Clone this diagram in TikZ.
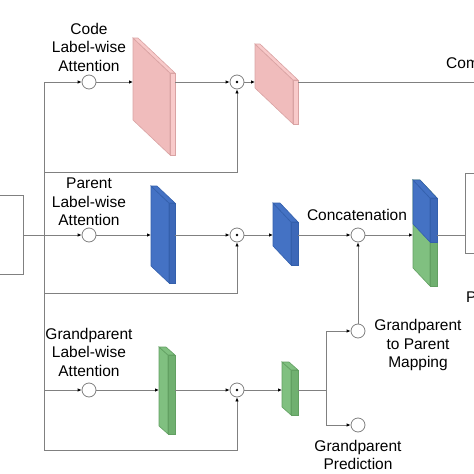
\documentclass[tikz,border=0pt]{standalone}
\usepackage{fontspec}
\setmainfont{Liberation Sans}
\usetikzlibrary{arrows.meta,calc}
\definecolor{wiregray}{HTML}{808080}
\definecolor{pinkface}{HTML}{F0BCBC}
\definecolor{pinkfront}{HTML}{F8CACA}
\definecolor{pinkedge}{HTML}{D9A3A3}
\definecolor{blueface}{HTML}{4472C4}
\definecolor{bluefront}{HTML}{3D68B8}
\definecolor{blueedge}{HTML}{3460AC}
\definecolor{greenface}{HTML}{80C080}
\definecolor{greenfront}{HTML}{70B070}
\definecolor{greenedge}{HTML}{62A062}
\tikzset{
  wire/.style={draw=wiregray,line width=1pt},
  arr/.style={wire,-{Latex[length=4pt,width=3.5pt,color=black]}},
  opcirc/.style={circle,draw=wiregray,fill=white,line width=0.8pt,minimum size=14pt,inner sep=0},
  multcirc/.style={opcirc,path picture={\fill[black] (path picture bounding box.center) circle (1.3pt);}},
  lbl/.style={font=\fontsize{15.5}{18.5}\selectfont,align=center,inner sep=0},
  iobox/.style={rectangle,draw=wiregray,line width=1pt,inner sep=0},
  slabbox/.style={rectangle,inner sep=0,anchor=north west},
  pinkside/.style={fill=pinkface,draw=pinkedge,line width=0.6pt},
  pinktop/.style={fill=pinkfront,draw=pinkedge,line width=0.6pt},
  pinkfront/.style={fill=pinkfront,draw=pinkedge,line width=0.6pt},
  blueside/.style={fill=blueface,draw=blueedge,line width=0.6pt},
  bluetop/.style={fill=blueface,draw=blueedge,line width=0.6pt},
  bluefront/.style={fill=bluefront,draw=blueedge,line width=0.6pt},
  greenside/.style={fill=greenface,draw=greenedge,line width=0.6pt},
  greentop/.style={fill=greenface,draw=greenedge,line width=0.6pt},
  greenfront/.style={fill=greenfront,draw=greenedge,line width=0.6pt}
}
% name, x, y (front face top-left), width, height, dx, dy, colour
\newcommand{\slab}[8]{%
  \draw[#8side] (#2,#3) -- ++(-#6,-#7) -- ++(0,#5) -- ++(#6,#7) -- cycle;
  \draw[#8top] (#2,#3) -- ++(#4,0) -- ++(-#6,-#7) -- ++(-#4,0) -- cycle;
  \draw[#8front] (#2,#3) rectangle ++(#4,#5);
  \path (#2,#3) ++(-#6,-#7) node[slabbox,minimum width=#4pt+#6pt,minimum height=#5pt+#7pt] (#1) {};
}
\begin{document}
\begin{tikzpicture}[x=1pt,y=-1pt]
    \useasboundingbox (0,0) rectangle (474,474);
    \clip (0,0) rectangle (474,474);

    % input and output boxes
    \node[iobox,anchor=north east,minimum width=40pt,minimum height=79pt] (inp) at (24,195) {};
    \node[iobox,anchor=north west,minimum width=40pt,minimum height=80pt] (out) at (465,173) {};

    % trunk
    \coordinate (ttop) at (44,82);
    \coordinate (tbot) at (44,450);
    \coordinate (cloop) at (44,172);
    \coordinate (ploop) at (44,293);
    \coordinate (grow) at (44,390);
    \draw[wire] (ttop) -- (tbot);
    \draw[wire] (inp) -- (inp -| ttop);

    % circles
    \node[opcirc] (ca) at (89,82) {};
    \node[opcirc] (pa) at (89,235) {};
    \node[opcirc] (ga) at (89,390) {};
    \node[multcirc] (cm) at (237,82) {};
    \node[multcirc] (pm) at (237,235) {};
    \node[multcirc] (gm) at (237,390) {};
    \node[opcirc] (cc) at (358,235) {};
    \node[opcirc] (gp) at (358,331) {};
    \node[opcirc] (gq) at (358,425) {};

    % slabs
    \slab{cs}{170}{73}{5}{82}{37}{35}{pink}
    \slab{cs2}{293}{80}{5}{44}{38}{36}{pink}
    \slab{ps}{169}{203}{6}{80}{18}{17}{blue}
    \slab{ps2}{291}{222}{7}{43}{18}{19}{blue}
    \slab{ct}{430}{198}{7}{88}{17}{18}{green}
    \slab{ctup}{430}{198}{7}{44}{17}{18}{blue}
    \slab{gs}{168}{355}{7}{79}{9}{8}{green}
    \slab{gs2}{291}{370}{7}{45}{9}{8}{green}

    % code row
    \draw[arr] (ttop) -- (ca);
    \draw[arr] (ca) -- (ca -| cs.west);
    \draw[arr] (ca -| cs.east) -- (cm);
    \draw[arr] (cloop) -| (cm);
    \draw[arr] (cm) -- (cm -| cs2.west);
    \draw[wire] (cm -| cs2.east) -- (cm -| out.east);

    % parent row
    \draw[arr] (inp -| ttop) -- (pa);
    \draw[arr] (pa) -- (pa -| ps.west);
    \draw[arr] (pa -| ps.east) -- (pm);
    \draw[arr] (ploop) -| (pm);
    \draw[arr] (pm) -- (pm -| ps2.west);
    \draw[arr] (pm -| ps2.east) -- (cc);
    \draw[arr] (cc) -- (cc -| ct.west);
    \draw[wire] (cc -| ct.east) -- (cc -| out.west);

    % grandparent row
    \coordinate (split) at (326,390);
    \draw[arr] (grow) -- (ga);
    \draw[arr] (ga) -- (ga -| gs.west);
    \draw[arr] (ga -| gs.east) -- (gm);
    \draw[arr] (tbot) -| (gm);
    \draw[arr] (gm) -- (gm -| gs2.west);
    \draw[wire] (gm -| gs2.east) -- (split);
    \draw[arr] (split) |- (gp);
    \draw[arr] (split) |- (gq);
    \draw[arr] (gp) -- (cc);

    % labels
    \node[lbl] (codelbl) at (89,47) {Code\\Label-wise\\Attention};
    \node[lbl] (parlbl) at (89,202) {Parent\\Label-wise\\Attention};
    \node[lbl] (gplbl) at (89,352) {Grandparent\\Label-wise\\Attention};
    \node[lbl] (catlbl) at (357,215) {Concatenation};
    \node[lbl] (maplbl) at (418,345) {Grandparent\\to Parent\\Mapping};
    \node[lbl] (predlbl) at (358,455) {Grandparent\\Prediction};
    \node[lbl,anchor=west] (comlbl) at (446,63) {Com};
    \node[lbl,anchor=west] (plbl) at (466,297) {P};

  \end{tikzpicture}
\end{document}
